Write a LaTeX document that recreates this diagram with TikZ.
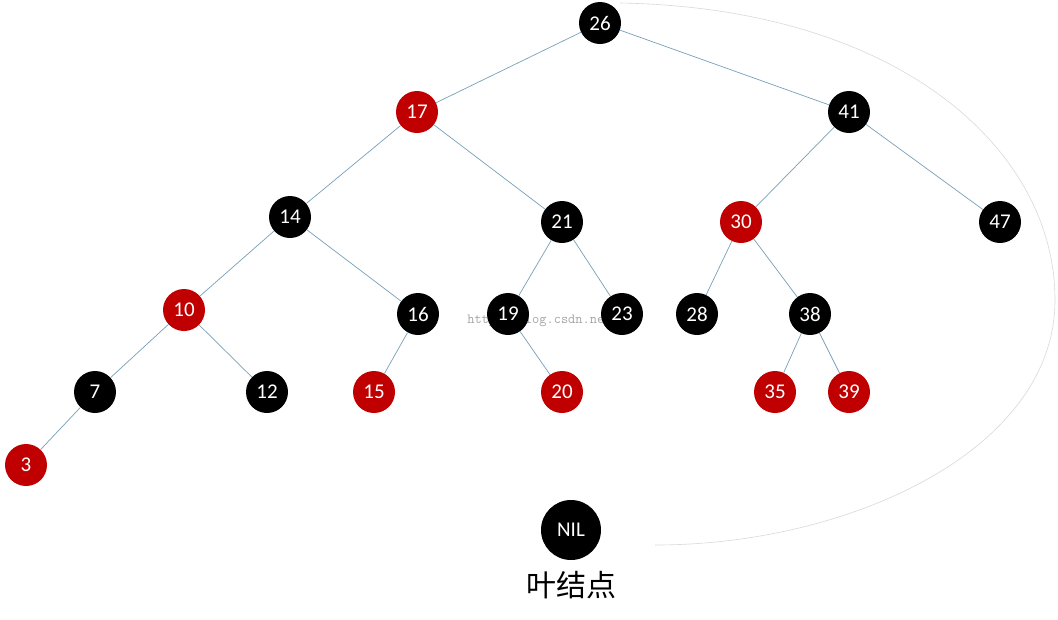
\documentclass[tikz,border=0pt]{standalone}
\usepackage{fontspec}
\setmainfont{Carlito}
\newfontfamily\cjk{Noto Sans CJK SC}
\definecolor{rbred}{RGB}{192,0,0}
\definecolor{edgec}{RGB}{120,160,185}
\begin{document}
\begin{tikzpicture}[x=1pt,y=-1pt,
  nd/.style={circle,inner sep=0pt,minimum size=42pt,text=white,font=\fontsize{21}{23}\selectfont},
  bk/.style={nd,fill=black},
  rd/.style={nd,fill=rbred},
  ed/.style={draw=edgec,line width=0.7pt}]
\useasboundingbox (0,0) rectangle (1058,619);
\fill[white] (0,0) rectangle (1058,619);
\draw[black!15,line width=0.6pt] (620,3) .. controls (900,8) and (1055,150) .. (1055,300) .. controls (1055,450) and (850,545) .. (655,545);
\node[text=black!35,font=\ttfamily\fontsize{14}{16}\selectfont] (wm) at (543,320) {http://blog.csdn.net/};
\node[bk] (n26) at (600,23) {26};
\node[rd] (n17) at (417,112) {17};
\node[bk] (n41) at (849,112) {41};
\node[bk] (n14) at (290,217) {14};
\node[bk] (n21) at (562,222) {21};
\node[rd] (n30) at (741,222) {30};
\node[bk] (n47) at (1000,222) {47};
\node[rd] (n10) at (184,310) {10};
\node[bk] (n16) at (418,314) {16};
\node[bk] (n19) at (508,314) {19};
\node[bk] (n23) at (622,314) {23};
\node[bk] (n28) at (697,314) {28};
\node[bk] (n38) at (810,314) {38};
\node[bk] (n7) at (95,392) {7};
\node[bk] (n12) at (267,392) {12};
\node[rd] (n15) at (374,392) {15};
\node[rd] (n20) at (562,392) {20};
\node[rd] (n35) at (775,392) {35};
\node[rd] (n39) at (849,392) {39};
\node[rd] (n3) at (26,465) {3};
\node[bk,minimum size=60pt] (nil) at (571,530) {NIL};
\node (lbl) at (571,585) {\cjk\fontsize{30}{34}\selectfont 叶结点};
\foreach \a/\b in {26/17,26/41,17/14,17/21,41/30,41/47,14/10,14/16,21/19,21/23,30/28,30/38,10/7,10/12,16/15,19/20,38/35,38/39,7/3}
  \draw[ed] (n\a) -- (n\b);
\end{tikzpicture}
\end{document}
